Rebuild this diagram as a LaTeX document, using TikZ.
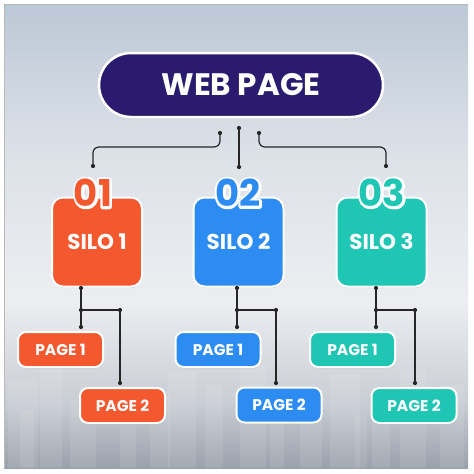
\documentclass[tikz,border=0pt]{standalone}
\usepackage{fontspec}
\newfontfamily\pop{Poppins}
\usetikzlibrary{shadows,calc}
\definecolor{navy}{HTML}{2B1B6E}
\definecolor{siloA}{HTML}{F4582F}
\definecolor{siloB}{HTML}{2D8CF2}
\definecolor{siloC}{HTML}{1FC6B3}
\definecolor{bgA}{HTML}{BCC8D6}
\definecolor{bgB}{HTML}{DCE1E8}
\definecolor{bgC}{HTML}{ECEEF1}
\definecolor{bgD}{HTML}{C9CDD4}
\definecolor{bgE}{HTML}{9AA1AB}
\pgfdeclareverticalshading{bgshade}{100bp}{color(0bp)=(bgE); color(25bp)=(bgE); color(32bp)=(bgD); color(43bp)=(bgC); color(59bp)=(bgB); color(75bp)=(bgA); color(100bp)=(bgA)}
\tikzset{
  pill/.style={rounded corners=32pt, fill=navy, draw=white, line width=2.5pt,
    minimum width=284pt, minimum height=64pt, text=white, inner sep=0pt,
    font=\pop\bfseries\fontsize{31}{31}\selectfont,
    drop shadow={opacity=0.18, shadow xshift=0.5pt, shadow yshift=-1.5pt}},
  silobox/.style={rounded corners=11pt, draw=white, line width=2pt,
    minimum width=90pt, minimum height=89pt, text=white, inner sep=0pt,
    font=\pop\bfseries\fontsize{21.5}{21.5}\selectfont,
    drop shadow={opacity=0.18, shadow xshift=0.5pt, shadow yshift=-1.5pt}},
  pagebox/.style={rounded corners=8pt, draw=white, line width=2pt,
    minimum width=85pt, minimum height=35pt, text=white, inner sep=0pt,
    font=\pop\bfseries\fontsize{15.5}{15.5}\selectfont,
    drop shadow={opacity=0.18, shadow xshift=0.5pt, shadow yshift=-1.5pt}},
  numfont/.style={inner sep=0pt, font=\pop\bfseries\fontsize{37}{37}\selectfont},
  wire/.style={line width=1.2pt, draw=black!85},
  building/.style={fill=white, fill opacity=0.09, draw=none}
}
\newcommand{\dotat}[1]{\fill[black!85] (#1) circle (2.1pt);}
\newcommand{\strokedtext}[1]{\special{pdf:literal direct 1 j 5 w 2 Tr}#1\special{pdf:literal direct 0 Tr}}
\newcommand{\outlinednum}[4]{%
  \node[numfont, text=white] at (#1) {\strokedtext{#3}};
  \node[numfont, text=#2] (#4) at (#1) {#3};
}
\begin{document}
\begin{tikzpicture}[x=1pt,y=-1pt]
\fill[white] (0,0) rectangle (474,474);
\useasboundingbox (0,0) rectangle (474,474);
\shade[shading=bgshade] (4,4) rectangle (468,468);
% faint city silhouette
\foreach \xa/\w/\ya in {8/30/380, 40/22/360, 70/26/400, 150/20/395, 168/28/372, 205/18/385, 240/26/365, 300/22/390, 330/30/375, 372/18/395, 400/26/370, 440/24/385, 20/14/410, 120/16/420, 270/14/405, 355/12/415}{
  \fill[building] (\xa,\ya) rectangle ++(\w,468-\ya);
}
\draw[gray!55, line width=0.8pt] (4,468) -- (4,4) -- (468,4);

% nodes
\node[pill] (web) at (241,85) {WEB PAGE};
\node[silobox, fill=siloA] (s1) at (97,242) {SILO 1};
\node[silobox, fill=siloB] (s2) at (238.5,242) {SILO 2};
\node[silobox, fill=siloC] (s3) at (381.5,242) {SILO 3};

\coordinate (n1pos) at (93,193);
\coordinate (n2pos) at (238,193);
\coordinate (n3pos) at (382,193);
\outlinednum{n1pos}{siloA}{01}{n1}
\outlinednum{n2pos}{siloB}{02}{n2}
\outlinednum{n3pos}{siloC}{03}{n3}

\node[pagebox, fill=siloA] (p11) at (60.5,349.5) {PAGE 1};
\node[pagebox, fill=siloA] (p12) at (122.5,405.5) {PAGE 2};
\node[pagebox, fill=siloB] (p21) at (218,349.5) {PAGE 1};
\node[pagebox, fill=siloB] (p22) at (279,405) {PAGE 2};
\node[pagebox, fill=siloC] (p31) at (352.5,349.5) {PAGE 1};
\node[pagebox, fill=siloC] (p32) at (414,405.5) {PAGE 2};

% top connectors
\coordinate (tm1) at (239,128);
\coordinate (tm2) at (239,167);
\coordinate (tl1) at (220,133);
\coordinate (tl2) at (93,166);
\coordinate (tr1) at (259,133);
\coordinate (tr2) at (386,166);
\draw[wire] (tm1) -- (tm2);
\draw[wire, rounded corners=6pt] (tl1) -- (220,147) -- (93,147) -- (tl2);
\draw[wire, rounded corners=6pt] (tr1) -- (259,147) -- (386,147) -- (tr2);
\foreach \c in {tm1,tm2,tl1,tl2,tr1,tr2}{\dotat{\c}}

% silo connectors
\foreach \i/\st/\br in {1/81/120, 2/237/276, 3/376/415}{
  \coordinate (a\i) at (\st,288);
  \coordinate (j\i) at (\st,310);
  \coordinate (b\i) at (\st,327);
  \coordinate (k\i) at (\br,310);
  \coordinate (c\i) at (\br,383);
  \draw[wire] (a\i) -- (b\i);
  \draw[wire] (j\i) -- (k\i) -- (c\i);
  \foreach \c in {a\i,j\i,b\i,k\i,c\i}{\dotat{\c}}
}
\end{tikzpicture}
\end{document}
